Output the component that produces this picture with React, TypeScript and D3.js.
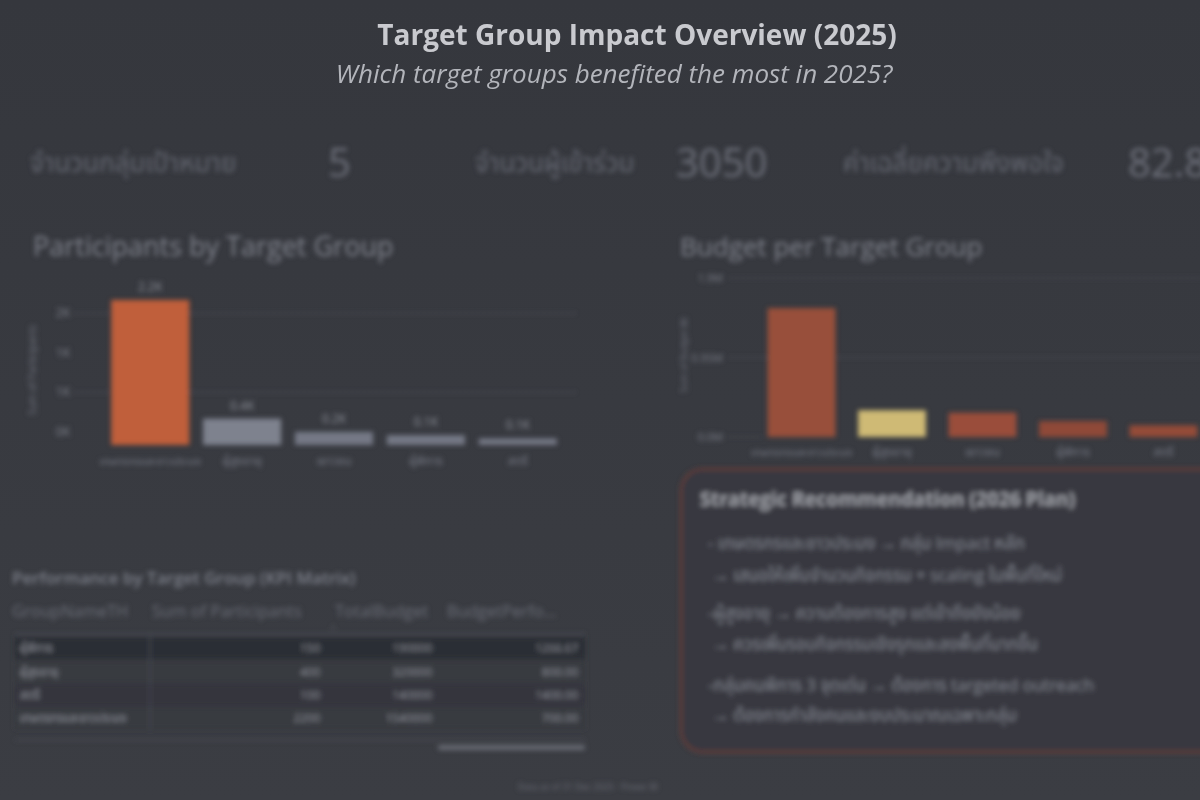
import React from "react";
import * as d3 from "d3";

// target groups shared by both charts
const groups = ["เกษตรกรและชาวประมง", "ผู้สูงอายุ", "เยาวชน", "ผู้พิการ", "สตรี"];
const participants = [2200, 400, 200, 150, 100];
const budgets = [1540000, 320000, 290000, 190000, 140000];
const participantTicks = [200, 800, 1400, 2000];
const participantGrid = [800, 2000];
const budgetTicks = [0, 950000, 1900000];
const budgetGrid = [950000, 1900000];

// KPI cards
const kpiLabels = ["จำนวนกลุ่มเป้าหมาย", "จำนวนผู้เข้าร่วม", "ค่าเฉลี่ยความพึงพอใจ"];
const kpiValues = ["5", "3050", "82.8"];

// KPI matrix rows
const tableHeaders = ["GroupNameTH", "Sum of Participants", "TotalBudget", "BudgetPerfo..."];
const tableNames = ["ผู้พิการ", "ผู้สูงอายุ", "สตรี", "เกษตรกรและชาวประมง"];
const tableParticipants = [150, 400, 100, 2200];
const tableBudgets = [190000, 320000, 140000, 1540000];
const tablePerPerson = ["1266.67", "800.00", "1400.00", "700.00"];

const recommendations = [
  "- เกษตรกรและชาวประมง → กลุ่ม Impact หลัก",
  "→ เสนอให้เพิ่มจำนวนกิจกรรม + scaling ในพื้นที่ใหม่",
  "-ผู้สูงอายุ → ความต้องการสูง แต่เข้าถึงยังน้อย",
  "→ ควรเพิ่มรอบกิจกรรมเชิงรุกและลงพื้นที่มากขึ้น",
  "-กลุ่มคนพิการ 3 จุดเด่น → ต้องการ targeted outreach",
  "→ ต้องการกำลังคนและงบประมาณเฉพาะกลุ่ม",
];
const recY = [544, 576, 614, 645, 686, 716];

const FONT = "'Open Sans', 'Noto Sans', 'Noto Sans Thai', sans-serif";

const App: React.FC = () => {
  // participants chart scales
  const px = d3.scaleBand<string>().domain(groups).range([102, 566]).paddingInner(0.15).paddingOuter(0.1);
  const py = d3.scaleLinear().domain([0, 2200]).range([445, 300]);
  const kFmt = (v: number) => `${Math.round(v / 1000)}K`;
  const labelFmt = (v: number) => `${d3.format(".1f")(v / 1000)}K`;

  // budget chart scales
  const bx = d3.scaleBand<string>().domain(groups).range([745, 1220]).paddingInner(0.25).paddingOuter(0.25);
  const by = d3.scaleLinear().domain([0, 1900000]).range([437, 278]);
  const mFmt = (v: number) => (v === 0 ? "0.0M" : v === 1900000 ? "1.9M" : `${d3.format(".2f")(v / 1e6)}M`);
  const budgetColors = ["#98503b", "#cfba74", "#9a4e3a", "#8f4a38", "#944b38"];

  const rowY = [648, 672, 695, 718];

  return (
    <svg
      width={1200}
      height={800}
      style={{ position: "fixed", left: 0, top: 0, fontFamily: FONT }}
    >
      <defs>
        <filter id="soft" x="-5%" y="-5%" width="110%" height="110%">
          <feGaussianBlur stdDeviation={2.4} />
        </filter>
        <filter id="softTitle">
          <feGaussianBlur stdDeviation={0.5} />
        </filter>
        <linearGradient id="bg" x1="0" y1="0" x2="0" y2="1">
          <stop offset="0" stopColor="#35373d" />
          <stop offset="1" stopColor="#3b3d43" />
        </linearGradient>
      </defs>
      <rect width={1200} height={800} fill="url(#bg)" />

      <g filter="url(#softTitle)">
        <text x={637} y={45} textAnchor="middle" fontSize={28} fontWeight={700} fill="#c9cacf">
          Target Group Impact Overview (2025)
        </text>
        <text x={614} y={83} textAnchor="middle" fontSize={26} fontStyle="italic" fill="#b3b5bb">
          Which target groups benefited the most in 2025?
        </text>
      </g>

      <g filter="url(#soft)">
        {/* KPI row */}
        {kpiLabels.map((l, i) => (
          <text key={l} x={[30, 475, 843][i]} y={172} fontSize={26} fill="#656872">
            {l}
          </text>
        ))}
        {kpiValues.map((v, i) => (
          <text key={v} x={[328, 676, 1128][i]} y={177} fontSize={40} fill="#6d707a">
            {v}
          </text>
        ))}

        {/* Participants by Target Group */}
        <text x={33} y={256} fontSize={27} fill="#80838d">Participants by Target Group</text>
        <text
          transform="translate(36,370) rotate(-90)"
          textAnchor="middle"
          fontSize={10}
          fill="#70737e"
        >
          Sum of Participants
        </text>
        {participantGrid.map((t) => (
          <line key={t} x1={75} x2={575} y1={py(t)} y2={py(t)} stroke="#777a84" strokeDasharray="2,4" />
        ))}
        {participantTicks.map((t) => (
          <text key={t} x={70} y={py(t) + 4} textAnchor="end" fontSize={12} fill="#80838d">
            {kFmt(t)}
          </text>
        ))}
        {groups.map((g, i) => (
          <g key={g}>
            <rect
              x={px(g)}
              y={py(participants[i])}
              width={px.bandwidth()}
              height={py(0) - py(participants[i])}
              fill={i === 0 ? "#c05e3b" : i === 1 ? "#7e828e" : "#747885"}
            />
            <text
              x={(px(g) as number) + px.bandwidth() / 2}
              y={py(participants[i]) - 9}
              textAnchor="middle"
              fontSize={12}
              fill="#90939c"
            >
              {labelFmt(participants[i])}
            </text>
            <text
              x={(px(g) as number) + px.bandwidth() / 2}
              y={465}
              textAnchor="middle"
              fontSize={i === 0 ? 11 : 12}
              fill="#767984"
            >
              {g}
            </text>
          </g>
        ))}

        {/* Budget per Target Group */}
        <text x={680} y={256} fontSize={26} fill="#80838d">Budget per Target Group</text>
        <text
          transform="translate(687,355) rotate(-90)"
          textAnchor="middle"
          fontSize={9}
          fill="#70737e"
        >
          Sum of Budget (฿)
        </text>
        {budgetGrid.map((t) => (
          <line key={t} x1={730} x2={1200} y1={by(t)} y2={by(t)} stroke="#71747e" strokeDasharray="2,4" />
        ))}
        <line x1={728} x2={760} y1={by(0)} y2={by(0)} stroke="#666973" strokeDasharray="2,4" />
        {budgetTicks.map((t) => (
          <text key={t} x={723} y={by(t) + 4} textAnchor="end" fontSize={11} fill="#7c7f89">
            {mFmt(t)}
          </text>
        ))}
        {groups.map((g, i) => (
          <g key={g}>
            <rect
              x={bx(g)}
              y={by(budgets[i])}
              width={bx.bandwidth()}
              height={by(0) - by(budgets[i])}
              fill={budgetColors[i]}
            />
            <text
              x={(bx(g) as number) + bx.bandwidth() / 2}
              y={456}
              textAnchor="middle"
              fontSize={i === 0 ? 11 : 12}
              fill="#767984"
            >
              {g}
            </text>
          </g>
        ))}

        {/* KPI matrix */}
        <text x={12} y={584} fontSize={17} fontWeight={600} fill="#7d808a">
          Performance by Target Group (KPI Matrix)
        </text>
        {tableHeaders.map((h, i) => (
          <text key={h} x={[12, 152, 335, 447][i]} y={617} fontSize={16.5} fill="#6b6e78">
            {h}
          </text>
        ))}
        <text x={333} y={631} fontSize={8} fill="#6a6d77" textAnchor="middle">^</text>
        <line x1={15} x2={585} y1={634} y2={634} stroke="#555863" />
        {rowY.map((y, i) => (
          <rect
            key={y}
            x={15}
            y={y - 11}
            width={570}
            height={22}
            fill={i === 0 ? "#2c2e34" : i % 2 === 0 ? "#34363c" : "#393b41"}
          />
        ))}
        <line x1={150} x2={150} y1={636} y2={730} stroke="#4c505c" />
        {tableNames.map((n, i) => (
          <g key={n} fontSize={11.5} fill="#8c8f98">
            <text x={20} y={rowY[i] + 4}>{n}</text>
            <text x={320} y={rowY[i] + 4} textAnchor="end">{tableParticipants[i]}</text>
            <text x={432} y={rowY[i] + 4} textAnchor="end">{tableBudgets[i]}</text>
            <text x={578} y={rowY[i] + 4} textAnchor="end">{tablePerPerson[i]}</text>
          </g>
        ))}
        <line x1={15} x2={585} y1={740} y2={740} stroke="#4e515b" />
        <rect x={438} y={745} width={147} height={5} rx={2} fill="#676a73" />

        {/* Strategic recommendation */}
        <rect
          x={681}
          y={469}
          width={560}
          height={283}
          rx={22}
          fill="#37393f"
          stroke="#6e3d36"
          strokeWidth={2}
        />
        <text x={700} y={506} fontSize={19.5} fontWeight={700} fill="#9c9ea5">
          Strategic Recommendation (2026 Plan)
        </text>
        {recommendations.map((r, i) => (
          <text key={r} x={i % 2 === 0 ? 708 : 712} y={recY[i] + 5} fontSize={17} fill="#7e818b">
            {r}
          </text>
        ))}

        <text x={588} y={790} textAnchor="middle" fontSize={9} fill="#6a6d77">
          Data as of 31 Dec 2025 · Power BI
        </text>
      </g>
    </svg>
  );
};

export default App;
